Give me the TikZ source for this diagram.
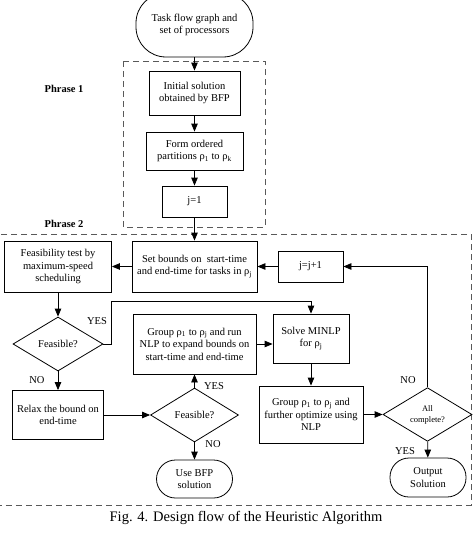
\documentclass[tikz,border=0pt]{standalone}
\usepackage{fontspec}
\setmainfont{Liberation Serif}
\usetikzlibrary{shapes.geometric,arrows.meta}
\newcommand\rh[1]{ρ\textsubscript{#1}}
\begin{document}
\begin{tikzpicture}[x=1pt,y=-1pt,
  every node/.style={font=\fontsize{10.5}{12.5}\selectfont},
  box/.style={draw, rectangle, align=center, inner sep=0pt, line width=0.8pt},
  term/.style={draw, rectangle, align=center, inner sep=0pt, line width=0.8pt},
  dec/.style={draw, diamond, align=center, inner sep=0pt, line width=0.8pt},
  arr/.style={line width=0.8pt, -{Triangle[length=8pt,width=6.5pt]}},
  phase/.style={draw=black!65, dashed, dash pattern=on 6pt off 4pt, line width=0.8pt},
  lbl/.style={font=\fontsize{10.5}{12}\selectfont},
  phr/.style={font=\fontsize{10.5}{12}\selectfont\bfseries}]
\useasboundingbox (0,0) rectangle (474,546);
% phase frames
\draw[phase] (123,61) rectangle (265,227);
\draw[phase] (-3,234) rectangle (471,505);
\node[phr] (p1) at (64,89) {Phrase 1};
\node[phr] (p2) at (64,224) {Phrase 2};
% nodes
\node[term, rounded corners=30pt, minimum width=117pt, minimum height=64pt] (start) at (194.5,25) {Task flow graph and\\set of processors};
\node[box, minimum width=91pt, minimum height=44pt] (init) at (194.5,93) {Initial solution\\obtained by BFP};
\node[box, minimum width=97pt, minimum height=38pt] (form) at (194.5,151) {Form ordered\\partitions \rh{1} to \rh{k}};
\node[box, minimum width=65pt, minimum height=31pt] (j1) at (194.5,201.5) {j=1};
\node[box, minimum width=125pt, minimum height=51pt] (setb) at (194.5,266.5) {Set bounds on\ \ start-time\\and end-time for tasks in \rh{j}};
\node[box, minimum width=107pt, minimum height=51pt] (feast) at (58,266.5) {Feasibility test by\\maximum-speed\\scheduling};
\node[box, minimum width=65pt, minimum height=31pt] (jj1) at (310.5,266.5) {j=j+1};
\node[dec, minimum width=90pt, minimum height=54pt] (feas1) at (58,344) {Feasible?};
\node[box, minimum width=123pt, minimum height=60pt] (grp1) at (194.5,344) {Group \rh{1} to \rh{j} and run\\NLP to expand bounds on\\start-time and end-time};
\node[box, minimum width=76pt, minimum height=49pt] (solve) at (311,338.5) {Solve MINLP\\for \rh{j}};
\node[box, minimum width=91pt, minimum height=49pt] (relax) at (58,415) {Relax the bound on\\end-time};
\node[dec, minimum width=88pt, minimum height=54pt] (feas2) at (194.5,415) {Feasible?};
\node[term, rounded corners=19pt, minimum width=76pt, minimum height=38pt] (bfp) at (194.5,479) {Use BFP\\solution};
\node[box, minimum width=104pt, minimum height=57pt] (grp2) at (311,414.5) {Group \rh{1} to \rh{j} and\\further optimize using\\NLP};
\node[dec, minimum width=89pt, minimum height=53pt, font=\fontsize{8.5}{11}\selectfont] (allc) at (427.5,414.5) {All\\complete?};
\node[term, rounded corners=19pt, minimum width=76pt, minimum height=39pt] (out) at (428,477.5) {Output\\Solution};
\coordinate (c1) at (111,301);
% connectors
\draw[arr] (start) -- (init);
\draw[arr] (init) -- (form);
\draw[arr] (form) -- (j1);
\draw[arr] (j1) -- (setb);
\draw[arr] (jj1) -- (setb);
\draw[arr] (setb) -- (feast);
\draw[arr] (feast) -- (feas1);
\draw[arr] (feas1) -- (relax);
\draw[arr] (feas1.east) -| (c1) -| (solve.north);
\draw[arr] (grp1.east) -- (grp1.east -| solve.west);
\draw[arr] (solve) -- (grp2);
\draw[arr] (relax) -- (feas2);
\draw[arr] (feas2) -- (grp1);
\draw[arr] (feas2) -- (bfp);
\draw[arr] (grp2) -- (allc);
\draw[arr] (allc.north) |- (jj1.east);
\draw[arr] (allc) -- (out);
% labels
\node[lbl] (y1) at (97,321) {YES};
\node[lbl] (n1) at (37,380) {NO};
\node[lbl] (y2) at (214,386) {YES};
\node[lbl] (n2) at (213,444) {NO};
\node[lbl] (n3) at (408,380) {NO};
\node[lbl] (y3) at (405,451) {YES};
\node[font=\fontsize{14.5}{17}\selectfont] (cap) at (246,518) {Fig. 4. Design flow of the Heuristic Algorithm};
\end{tikzpicture}
\end{document}
